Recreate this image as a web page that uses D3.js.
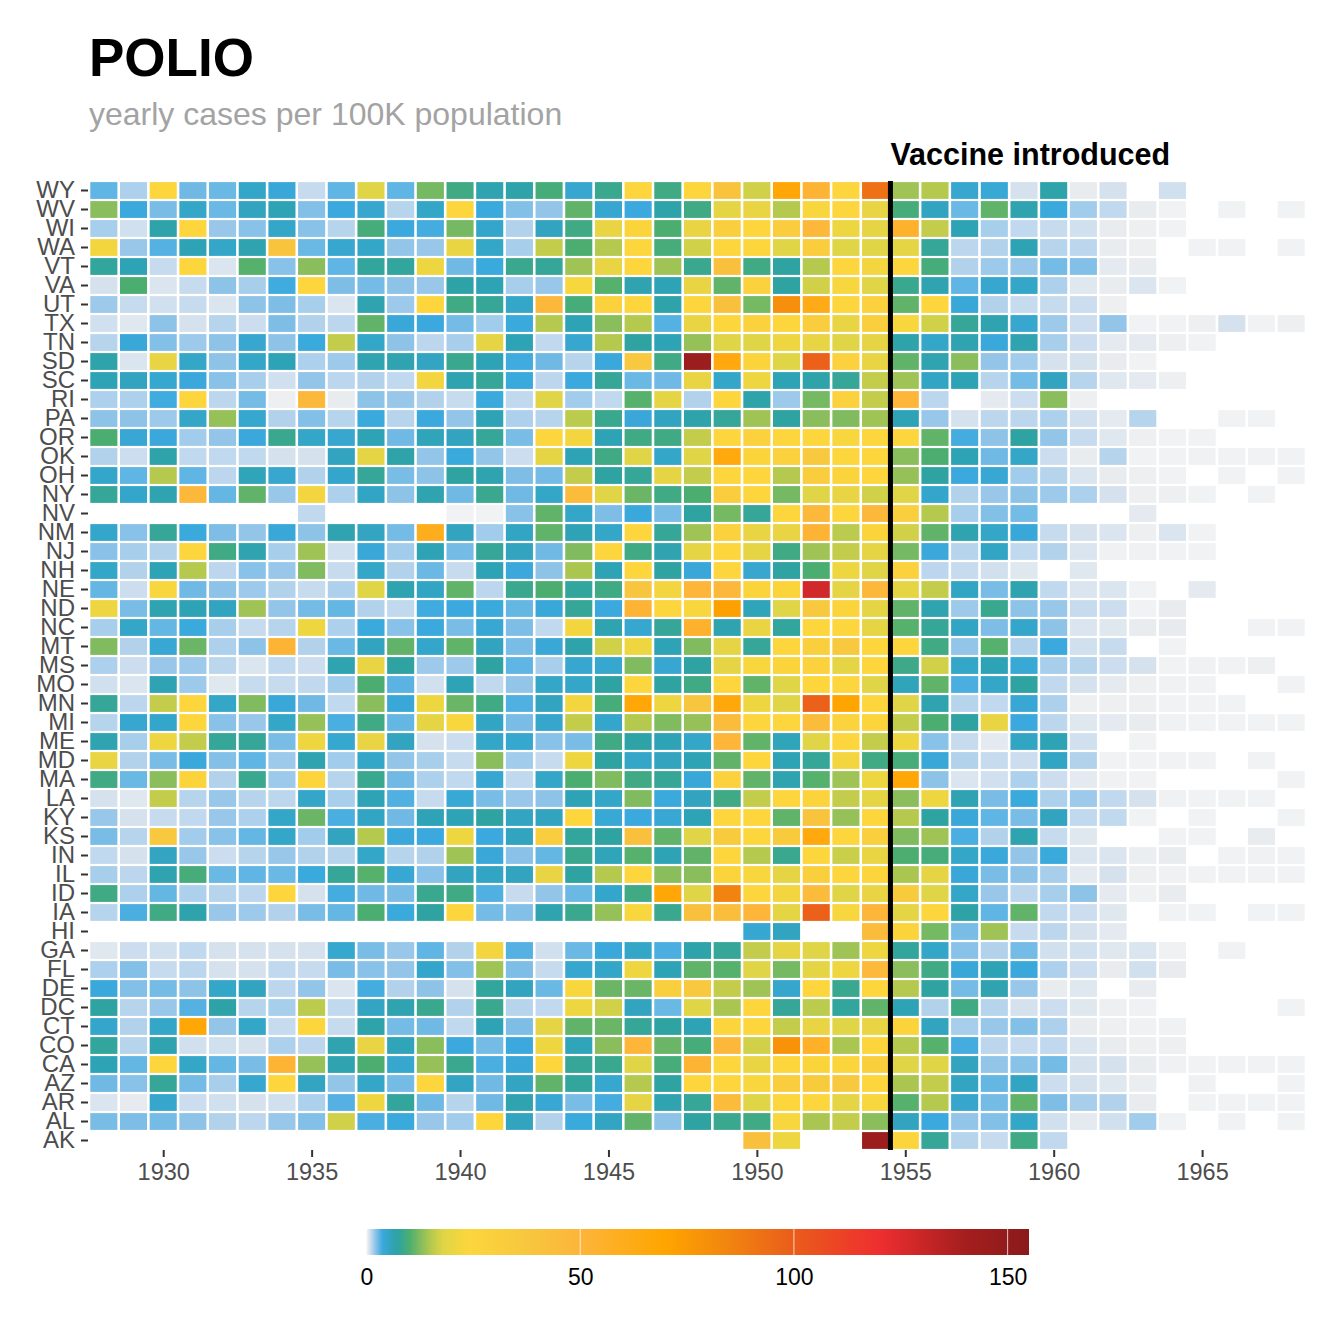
<!DOCTYPE html>
<html><head><meta charset="utf-8">
<script src="https://cdn.jsdelivr.net/npm/d3@7"></script>
<style>html,body{margin:0;background:#fff}svg{display:block}text{font-family:"Liberation Sans",Arial,sans-serif}</style>
</head><body><svg id="c" width="1344" height="1344"></svg>
<script>
const _ = null;
const years = d3.range(1928, 1969);
const tickYears = [1930,1935,1940,1945,1950,1955,1960,1965];
const legendTicks = [0,50,100,150];
const states = ["WY","WV","WI","WA","VT","VA","UT","TX","TN","SD","SC","RI","PA","OR","OK","OH","NY","NV","NM","NJ","NH","NE","ND","NC","MT","MS","MO","MN","MI","ME","MD","MA","LA","KY","KS","IN","IL","ID","IA","HI","GA","FL","DE","DC","CT","CO","CA","AZ","AR","AL","AK"];
const colorStops = [0,.3,1,2,3.7,6,7.4,10,15,18,24,38,50,70,85,100,120,140,155];
const colorValues = ["#f4f5f6","#e9ecef","#c6dbee","#93c5e9","#3ba9de","#2fa3b6","#2ea3a4","#4bae70","#b4c94e","#e0d546","#fcd63c","#f7c63e","#fdb53a","#ffa500","#f18410","#ea5c1a","#ee2e30","#a51e1e","#8a1a1a"];
const WY=[3,1.5,24,2.7,2.8,5,4,1,3,18,3,12,9,6.5,7,9.5,4.5,8.5,24,9,24,40,17,68,52,24,92,14,15,4.5,4.2,.7,7,.3,.7,_,.8];
const WV=[13,3.7,2.5,5,2.8,5.5,6,2.3,3.7,4.5,1.3,5,24,3.8,2.3,2,11,4.5,3.7,7,9,19,20,15,23,24,20,9.5,5.5,2.8,11,6.5,3.8,1.7,1.1,.3,.1,_,.1,_,.1];
const WI=[1.6,.8,7,24,1.9,2.2,5,2.2,1.3,9.5,3.7,3.5,12,4.8,1.4,5.5,9,20,26,10,20,30,24,32,48,21,19,55,16,6,1.6,1.1,1,.8,.3,.2,.1];
const WA=[22,1.9,3.2,6,5,6.5,40,2.8,4.5,5,2,1.9,20,5,1.6,16,10,15,24,9.5,17,24,24,18,32,18,18,19,8,1.2,1.4,6,1.3,1.2,.3,.2,_,.1,.1,_,.1];
const VT=[7.8,6,1,24,.6,10.5,2.2,13,3,7.8,7.8,21,2.7,3.8,8.5,8,14,20,24,14,8.5,42,9,7.5,15,24,22,24,9.5,1.4,1.8,1.9,2.6,2.3,.4,.3];
const VA=[.7,10,.6,1,2.1,1.6,3.6,24,2.4,2.6,2.1,1.9,7.2,6,1.6,1.9,23,10.5,6.5,6,20,11,28,7.5,17,23,18,8.5,6.5,3,4.5,5,1.5,.5,.3,.6,.1];
const UT=[1.8,1,.8,1,.6,2.1,2.4,1.6,.6,6.5,1.8,24,9,8,5,48,9.5,28,24,7,24,42,12,80,62,24,28,11,24,4,1.4,1,1,.9,.2];
const TX=[.8,.5,2.1,.7,1.3,.9,2.4,1.4,1.2,11,4,3.7,2.6,1.7,3.8,15,6,13,15,3.2,20,24,28,24,32,20,30,23,17,8,6.5,4.5,1.8,.9,2,.1,.1,.2,.7,.1,.2];
const TN=[1.3,4,2.3,1.8,2.1,4.5,2.1,3.8,16,5,2.1,1.2,1.6,19,6,1.1,4.5,15,7.5,6,13.5,18,18,21,20,18,19,7,5,6.5,3.9,6.5,1.6,.9,.4,.4,.2,.1];
const SD=[7,.6,20,5,2.1,5,6,1.5,1.8,6.5,6.5,5.3,8.5,6,3.6,2.7,1.3,3.9,35,9,145,65,26,18,98,28,20,11,6.5,13,2,1.7,.7,.7,.3,.1];
const SC=[6,5.5,4.6,3.9,2.2,1.6,.8,2,1.2,1.4,1.1,22,6.5,8,3.8,1.2,3.7,8,2.8,2.7,20,5,21,6,7,8,16,14,5.2,6,1.3,2.6,5.5,1.3,.5,.4,.2];
const RI=[1.5,1.5,3.6,24,1.2,2.6,.2,48,.3,2.1,1.9,1.4,1,3.8,1.1,18,1.7,1.1,10.5,19,1.4,24,7,1.8,12,28,16,50,1.2,_,.4,.9,13,.2];
const PA=[2.1,2.1,1.8,5,13.5,4.6,1.4,2.3,1.3,3.8,1.3,3.7,2,6,1.5,1.3,15.5,8.5,4,5.5,7,8,14,7.5,13,12.5,14,6,1.9,.7,1.2,1.2,1.5,.8,.4,1.3,_,_,.1,.1];
const OR=[10,4.3,3.9,1.7,2,3.9,8.5,5,4.5,6,2.7,5.8,5.5,8,2.5,24,22,6,9,9,16,24,28,24,24,23,24,24,11,3.5,2.1,7.5,2,1,.5,.2,.1,.1];
const OK=[1.4,.9,7,1.1,1.1,1.1,.7,.7,5.5,19,7,2,3.8,2,.9,19,6,9,18,5,18,65,26,28,35,24,24,13,10,6,2.7,5,.9,.3,1.3,.1,.1,.15,.1,.1,.1];
const OH=[4.8,3,15,3,1.2,5.8,4.5,1.4,4.8,8,2.5,2.1,7.5,6.5,2.4,2.6,16,7.5,8,19,16,24,24,15,32,26,24,13.5,7.5,3.7,4.3,1.7,1.3,.6,.3,.2,.1,_,.1,_,.1];
const NY=[8,4.8,6.5,48,2.9,11,1.9,22,1.5,5.2,2.1,6.5,2.7,8.5,2.7,5,45,18,11.5,9,10,32,24,12,18,20,17,18,4.8,1.4,1.9,2.1,1.8,1.5,.7,.2,.2,.1,_,.1];
const NV=[_,_,_,_,_,_,_,1.1,_,_,_,_,.1,.1,2.2,11,5,2.4,3.9,2.5,7.5,12,8,24,48,24,48,30,15,1.6,2.3,2.6,_,_,_,.4];
const NM=[4.8,2.2,8,3.8,2.4,2,4,2.1,6.5,5.3,2.6,60,5.5,1.7,5.2,11,6,5,24,8,14,28,20,20,52,15.5,26,17,11,6.5,5,4,1,.7,.6,.2,.6,.1];
const NJ=[2.2,1.6,1.4,24,9,6.5,1.6,14,.8,4,1.7,6,2.6,8,5.5,2.7,12.5,24,9,6.5,19,24,19,9,14,16,19,12,3.9,1.3,5.2,1.1,1.4,.6,.15,.15,.1,.1];
const NH=[5,1.4,6,15,1.2,2.2,1.9,12.5,1,5,1.4,2.8,1,6,3.9,2.1,14.5,6,24,7.5,4,24,4.5,7.5,10,21,18,28,1.2,1,.8,.5,_,.5];
const NE=[2.9,.9,23,2.7,2.1,1.8,1.4,1,1.5,18,6.5,5.2,11,1.2,8.5,10,7.8,9,38,22,50,48,26,26,128,19,48,19,16,5.2,2.5,6.5,1.1,.6,.6,.1,_,.4];
const ND=[21,2.5,6.5,6,5.5,14,2,2.6,2.9,1.4,1.1,3.6,3.7,3.8,2.9,4,8,3.7,52,24,23,72,5.8,18,35,26,19,11,6.5,1.8,8.5,2.1,1.9,1,.9,.1,.3];
const NC=[1.6,5,2.9,3.8,1.6,1,1.3,21,1.5,3.8,2.2,3.7,2.5,4.3,2.4,1.1,22,6.5,4.5,8,55,6.5,20,7.8,24,24,19,10.5,8,5.2,2.4,4.8,2.1,.6,.5,.3,.35,_,_,.1,.1];
const MT=[12.5,1.4,4.3,11.5,1.5,2.1,52,1.4,2.8,5.5,11,4.8,11,5.5,2.5,4.1,7,17,21,6,12.5,19,8,24,30,36,24,24,9,2,10.5,1.4,3.7,.8,1,_,.1];
const MS=[1.5,.9,1.9,1.8,1.2,.6,1.1,.9,6.5,20,7.5,1.8,1.8,7.5,3,1.6,4.5,4.6,12.5,4.4,7.5,19,23,26,28,19,24,8.8,17,5,6,4.2,1.6,1.3,.9,.7,.1,.15,.1,.2];
const MO=[.8,.6,6.2,1.8,.5,1,1,1.1,1.7,10,3.1,.8,6,1.1,2,5,5,7.5,24,7.5,9,24,11,18,24,24,18,5.8,11,3.4,5,7.5,1.1,.7,.4,.2,.15,.1,_,_,.1];
const MN=[8,1.2,16,24,5,12.5,4,2.7,1.1,13,4,21,11.5,9,3.3,5.5,22,9.5,68,21,38,66,21,18,98,70,24,18,6.5,1.3,1.1,4.3,1.5,.2,.2,.2,.1,.1,.1];
const MI=[1.3,4.5,4.8,24,2.2,1.9,5,13.5,3.4,9,2.9,19,23,5.2,2.5,4.7,16,4.8,15,12.5,13.5,45,24,24,46,27,25,16,10,7.5,20,3.7,1.2,.5,.4,.3,.15,.1,.1,.1,.1];
const ME=[6.5,1.6,21,16,8,8,2.5,21,4.6,20,5.5,.7,.9,5,4.6,2.2,2.5,9,7.2,6,5,50,11,5.8,18,24,16,21,2.2,1,.4,5.2,6,.8,_,.1];
const MD=[20,1.4,2.5,3.9,2.3,3,1.8,6.5,1.7,5,2,1.6,1,13,1.7,1,21,7.5,5,5.5,6,11,24,6,8,22,9,9.5,4,1.4,1,.9,5.2,1.4,.1,.1,.1,.1,_,.1];
const MA=[9,2.8,13,26,1.4,8.5,1.8,25,1.3,8.5,2.7,1.5,1.1,4.4,1.1,5,10,12.5,9,8,4,28,11,6.5,10.5,14,21,68,2.1,.6,.8,1.5,.9,.4,.15,.1,_,_,_,_,.1];
const LA=[.7,.5,16,1.3,1.9,1.3,1.2,5,1.6,6,3.3,1,4.2,2.5,1.9,2.1,6,5,12.5,3.8,5.5,9,16,24,26,16,19,13,21,6.3,2.5,3.8,1.5,1.8,1.1,.7,.15,.1,.1,.1];
const KY=[1.9,.7,1,1.1,1.9,1.5,5,11.5,3.4,5.2,2.7,6,6,7.5,5.3,5.5,24,4.2,3.7,4.3,6,24,24,11,40,13.5,24,15,7.5,4,3,2.5,5.5,1.1,1.1,.1,_,.1,_,_,.1];
const KS=[2.5,1.3,36,1.7,2.2,2.9,5,1.7,5.5,15,3.9,3.7,21,3.7,5.5,32,7.8,7.5,42,11,18,34,24,34,65,24,30,12.5,14,3.4,1.4,6.5,1,.5,_,_,.1,.1,_,.3];
const IN=[1.1,.7,5.3,1.9,.9,1.3,1.9,1.4,1.3,5,1.3,1.4,14,4,2.2,2.9,8.5,5.8,10.5,6,11,24,15,8.5,24,16.5,20,10,9.5,5,3.9,2,3.8,.6,.6,.25,.3,_,.1,.15,.1];
const IL=[1.6,1.2,6.5,9.5,2.8,3,2.8,3.8,8,10.5,4.3,2.2,5.5,5.2,5.5,20,7.5,15,24,13,13,26,23,19,30,24,25,14.5,19,4,2.5,2.1,1.6,.4,.7,.2,.15,.1,.1,.1,.1];
const ID=[9,1.5,2.9,1.5,1.3,1.2,24,.7,3.5,2.7,2.5,8.5,9,3.3,1,2,2.8,4.8,9,68,18,85,24,22,45,18,20,34,18,5,1.9,1.2,1.6,2.1,.4,.15,.3];
const IA=[1.3,3.4,9,6.8,1.9,1.8,1.4,2.5,2.9,10,3.8,7.5,24,2.6,2.3,6.5,8.5,13.5,23,8.5,42,44,50,19,98,23,50,19,24,7.2,3,11,1.1,.9,.5,_,.1,.1,_,.1,.1];
const HI=[_,_,_,_,_,_,_,_,_,_,_,_,_,_,_,_,_,_,_,_,_,_,4.4,5.5,_,_,46,26,12,2.5,14,1,1.2,.7,.4];
const GA=[.5,.9,.8,1.1,.7,.7,.7,.7,4.6,2.5,1.9,3,1.4,22,3.2,.8,2.8,3.9,5,3.4,7,8,16,19,18,14,21,7.8,5,2.2,1.4,2.6,.8,.8,.5,.6,.15,_,.1];
const FL=[1.5,2.3,1,1.2,.7,.7,1.1,1,2.5,2.2,2,4.8,2.3,14,2.4,1,4.5,5,21,6,11,10.5,18,12,19,21,47,13,9,4,6,3.9,1.5,.9,.3,.8,.3];
const DE=[3.9,2.3,2.6,2.1,5,5.5,1.2,2,.6,3.5,1.4,2.1,.7,7.8,5.5,2.8,23,11.5,11.5,30,36,16,14,4.7,24,8.5,24,15,7.5,2.6,6.5,1.9,.3,.5,_,.3];
const DC=[7.5,1.3,1.9,3.2,7.2,1.3,1.6,15.5,1.1,5.3,6.5,8.5,1.4,8.5,1.3,1.1,21,17,5.5,2.8,18,14.5,24,8,15.5,7.8,11,6,1.4,9,1.3,.7,.9,.5,.2,.15,_,_,_,_,.1];
const CT=[4.8,1.4,5,68,2,5,1,24,1,7,2.6,2.7,1.1,6,2.4,19,11,11.5,8,7.5,6,25,24,16,20,18,20,26,5.5,1.6,1.9,2.3,1.5,.3,.2,.15,.15];
const CO=[7.8,1.3,6.5,.8,.8,.7,1.5,1.2,6.5,20,5.8,13,3.7,2.6,3.7,21,5.8,13,50,11.5,9.5,48,17,78,56,14.5,25,15,10.5,3.5,1.2,1,1.1,.6,.3,.2,.2];
const CA=[6,2.9,24,5,2.9,2.5,52,13.5,6.5,10,4.5,13.5,8.5,3.4,4,24,8,8.5,18,9.5,52,24,20,24,26,25,30,18,18,5.5,2,2.2,2.6,.7,.7,.3,.15,.1,.1,.1,.1];
const AZ=[2.7,2.2,8,2.6,1.6,4.6,24,5.3,2,5,2.6,24,5.3,2.7,5.3,11,7.8,4.6,15,7.5,24,24,23,32,34,36,24,14.5,16,5.3,2.9,5.3,.9,.7,.5,.25,_,.15,_,_,.1];
const AR=[.6,.35,4.7,.9,.8,.7,.8,1.5,3.2,21,7.8,2.7,1.3,2.7,6.5,4.3,2.5,3.5,19,6.5,8,46,18,24,24,19,23,10.5,15,4.7,2.6,11,2.4,1.6,1.4,.3,_,.1,.1,.1,.1];
const AL=[2.5,2.4,2.6,2.1,1.4,1.2,1.9,2.3,17,3.4,3.8,1.9,1.7,24,5.5,1.4,3.8,5.3,11,2.1,7.5,8.5,9,23,14.5,16,13,5.5,3.7,2,2.3,5,.8,.4,.8,1.7,.1,_,.1,_,.1];
const AK=[_,_,_,_,_,_,_,_,_,_,_,_,_,_,_,_,_,_,_,_,_,_,42,21,_,_,145,25,8,1.3,1,9,1.1];
const rows = [WY,WV,WI,WA,VT,VA,UT,TX,TN,SD,SC,RI,PA,OR,OK,OH,NY,NV,NM,NJ,NH,NE,ND,NC,MT,MS,MO,MN,MI,ME,MD,MA,LA,KY,KS,IN,IL,ID,IA,HI,GA,FL,DE,DC,CT,CO,CA,AZ,AR,AL,AK];

const svg = d3.select("#c");
const color = d3.scaleLinear().domain(colorStops).range(colorValues).interpolate(d3.interpolateRgb);
const x = d3.scaleLinear().domain([1927.5,1968.5]).range([89,1306]);
const y = d3.scaleBand().domain(states).range([181,1150]);
const cells = [];
rows.forEach((r,i)=>r.forEach((v,j)=>{ if(v!==null) cells.push({s:states[i],yr:years[j],v}); }));
const cw = x(1)-x(0);
svg.append("g").selectAll("rect").data(cells).join("rect")
  .attr("x",d=>x(d.yr-.5)+1.3).attr("width",cw-2.6)
  .attr("y",d=>y(d.s)+1.1).attr("height",y.bandwidth()-2.2)
  .attr("fill",d=>color(d.v));

const xAxis = svg.append("g").attr("transform","translate(0,1150)")
  .call(d3.axisBottom(x).tickValues(tickYears).tickFormat(d3.format("d")).tickSize(7).tickPadding(6));
const yAxis = svg.append("g").attr("transform","translate(88,0)")
  .call(d3.axisLeft(y).tickSize(7).tickPadding(6));
[xAxis,yAxis].forEach((a,i)=>{
  a.select(".domain").remove();
  a.selectAll("line").attr("stroke","#333").attr("stroke-width",2);
  a.selectAll("text").attr("fill","#4d4d4d").style("font-size",i?"24px":"23.5px").style("font-family",'"Liberation Sans",Arial,sans-serif');
});

svg.append("line").attr("x1",x(1954.5)).attr("x2",x(1954.5)).attr("y1",181).attr("y2",1150)
  .attr("stroke","#000").attr("stroke-width",5);
svg.append("text").attr("x",x(1954.5)).attr("y",165).attr("font-weight","bold").attr("font-size",30.5).attr("fill","#000").text("Vaccine introduced");
svg.append("text").attr("x",89).attr("y",76).attr("font-weight","bold").attr("font-size",53).attr("fill","#000").text("POLIO");
svg.append("text").attr("x",89).attr("y",125).attr("font-size",32).attr("fill","#a3a3a3").text("yearly cases per 100K population");

const lx = d3.scaleLinear().domain([0,155]).range([366.5,1029]);
const grad = svg.append("defs").append("linearGradient").attr("id","lg");
grad.selectAll("stop").data(colorStops).join("stop")
  .attr("offset",d=>d/155).attr("stop-color",d=>color(d));
svg.append("rect").attr("x",lx(0)).attr("width",lx(155)-lx(0)).attr("y",1229).attr("height",26).attr("fill","url(#lg)");
const lAxis = svg.append("g").attr("transform","translate(0,1255)")
  .call(d3.axisBottom(lx).tickValues(legendTicks).tickSize(0).tickPadding(14));
lAxis.select(".domain").remove();
lAxis.selectAll("text").attr("fill","#000").style("font-size","23px").style("font-family",'"Liberation Sans",Arial,sans-serif');
svg.append("g").selectAll("line").data(legendTicks.slice(1)).join("line")
  .attr("x1",lx).attr("x2",lx).attr("y1",1229).attr("y2",1255).attr("stroke","#fff").attr("stroke-opacity",.75).attr("stroke-width",1);
</script></body></html>
